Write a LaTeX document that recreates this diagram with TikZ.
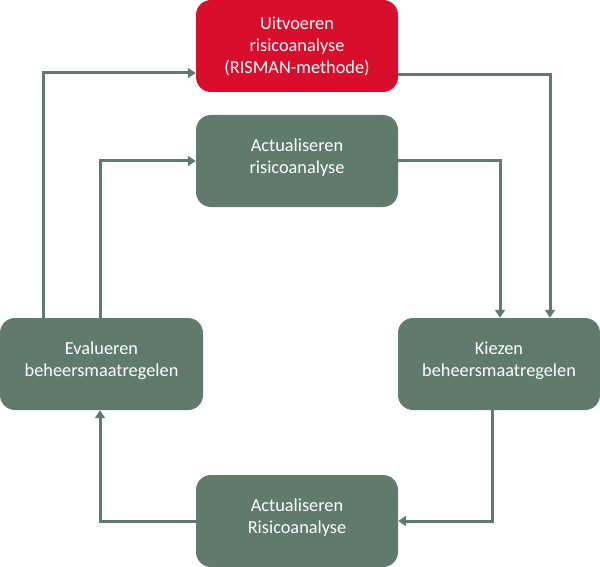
\documentclass[tikz,border=0pt]{standalone}
\usepackage{fontspec}
\setmainfont{Carlito}
\usetikzlibrary{arrows.meta}
\definecolor{rred}{RGB}{217,14,44}
\definecolor{ggreen}{RGB}{96,122,110}
\begin{document}
\begin{tikzpicture}[x=1pt,y=1pt,
  box/.style={rectangle,rounded corners=15pt,fill=ggreen,text=white,minimum width=202pt,minimum height=92pt,align=center,font=\fontsize{18.3}{22}\selectfont,inner sep=0pt},
  twoline/.style={text depth=10pt},
  arr/.style={draw=ggreen,line width=3pt,-{Triangle[width=10pt,length=8pt]}}]
\useasboundingbox (0,0) rectangle (600,-567);
\node[box,fill=rred] (top) at (297,-46) {Uitvoeren\\risicoanalyse\\(RISMAN-methode)};
\node[box,twoline] (second) at (297,-161) {Actualiseren\\risicoanalyse};
\node[box,twoline,minimum width=203pt] (left) at (101.5,-364) {Evalueren\\beheersmaatregelen};
\node[box,twoline] (right) at (499,-364) {Kiezen\\beheersmaatregelen};
\node[box,twoline] (bottom) at (297,-521) {Actualiseren\\Risicoanalyse};
\draw[arr] ([xshift=-58.5pt]left.north) |- ([yshift=-27pt]top.west);
\draw[arr] ([xshift=-1.5pt]left.north) |- (second.west);
\draw[arr] ([yshift=-29pt]top.east) -| ([xshift=51pt]right.north);
\draw[arr] (second.east) -| ([xshift=1pt]right.north);
\draw[arr] ([xshift=-7pt]right.south) |- (bottom.east);
\draw[arr] (bottom.west) -| ([xshift=-1.5pt]left.south);
\end{tikzpicture}
\end{document}
